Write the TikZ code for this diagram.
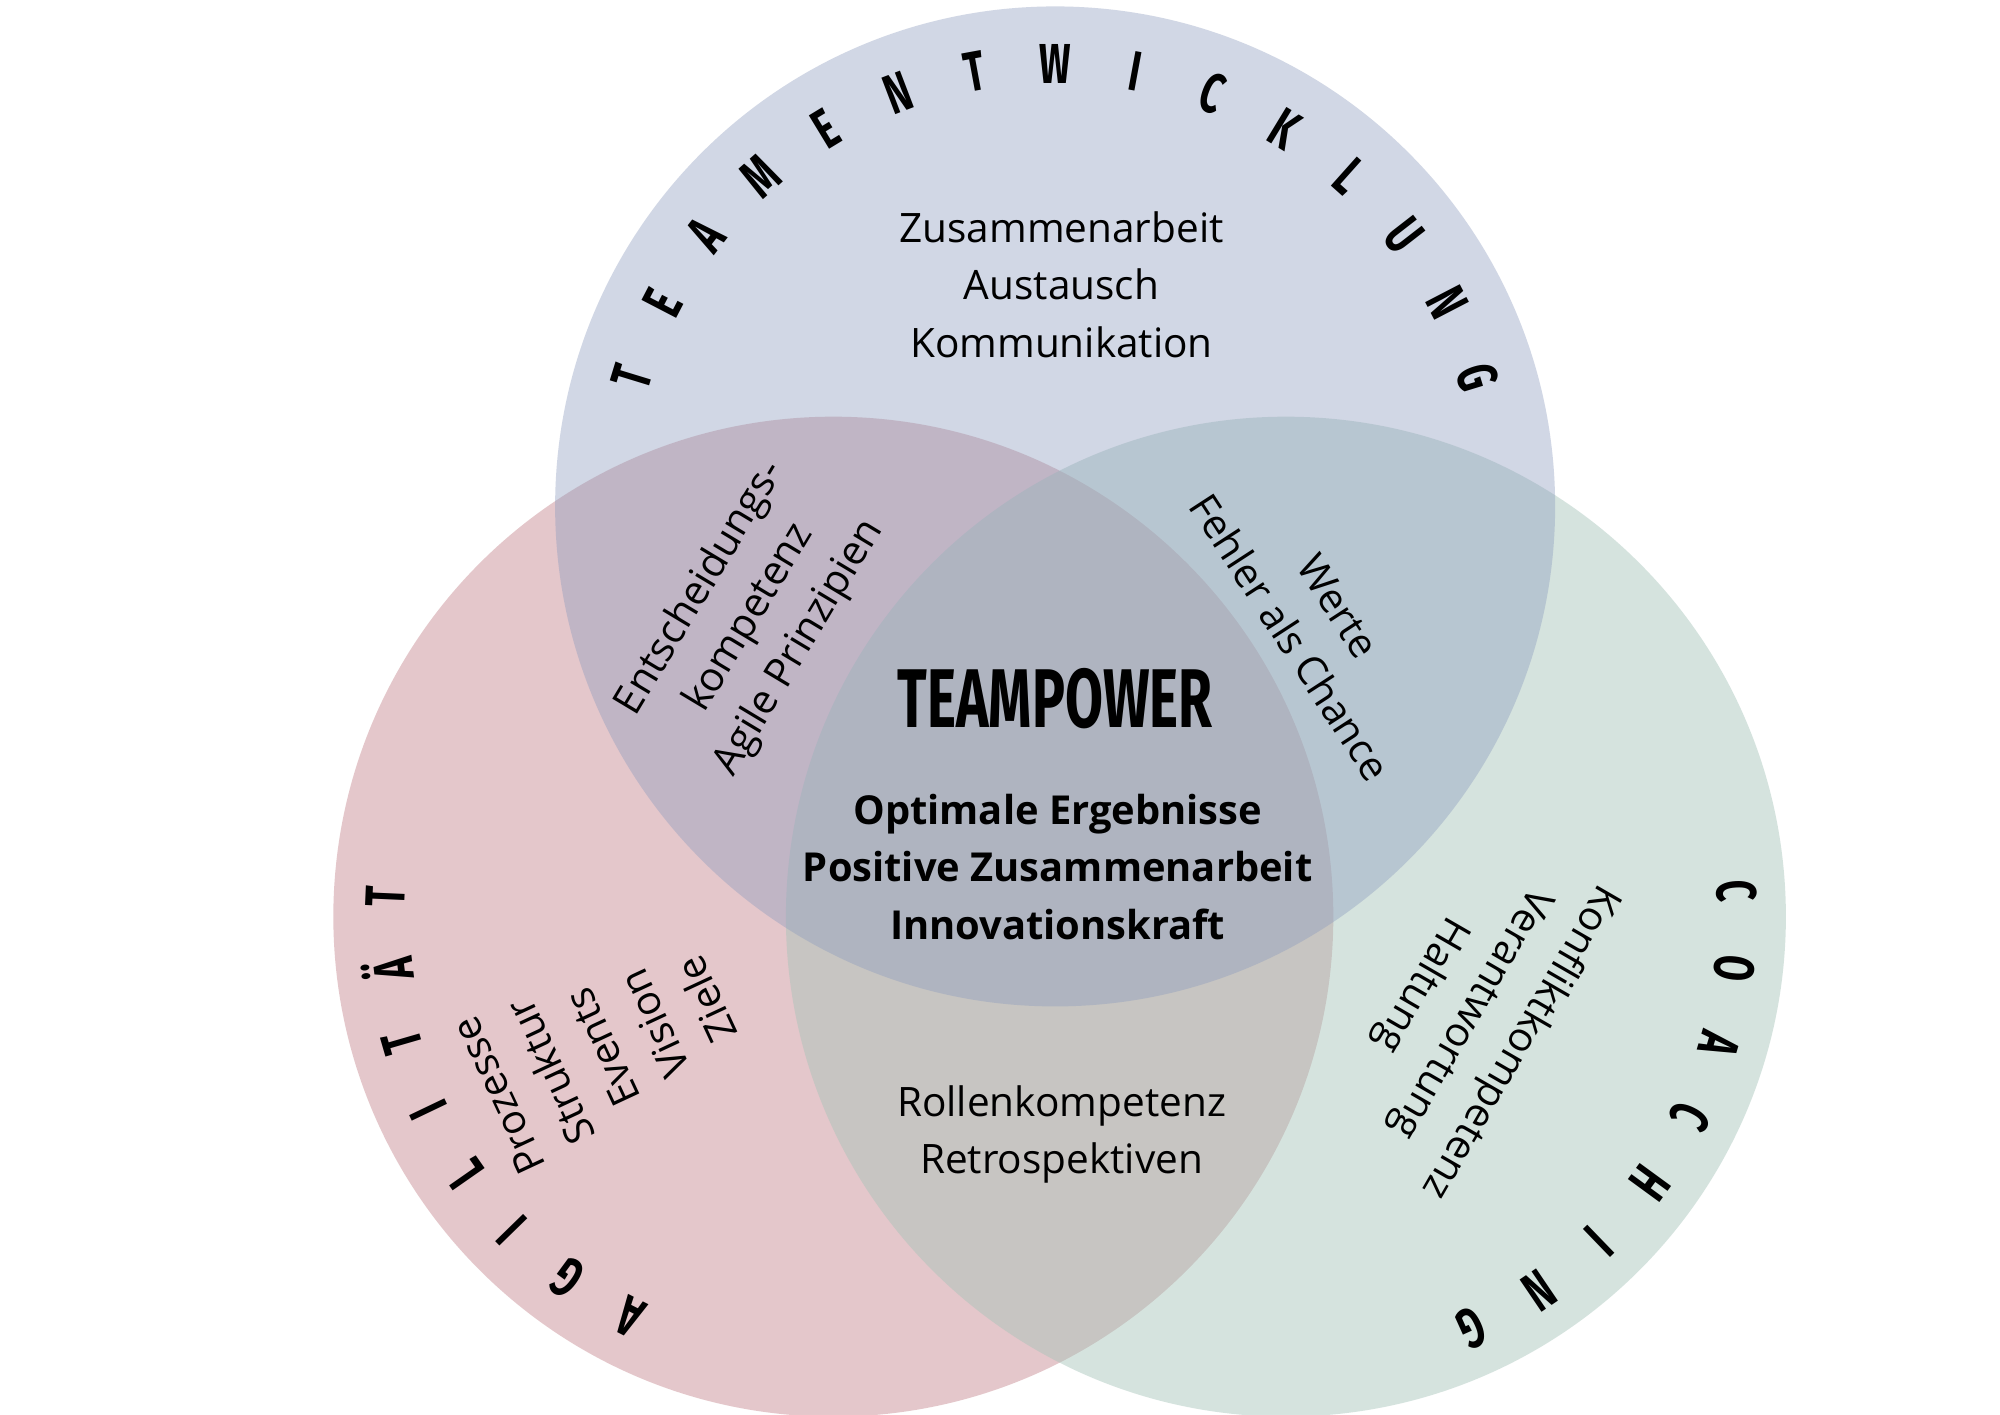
\documentclass[tikz,border=0pt]{standalone}
\usepackage{fontspec}
\usetikzlibrary{calc}
\setmainfont{Open Sans}
\newfontfamily\condfont[FakeStretch=0.66]{Fira Sans}
\definecolor{cblue}{RGB}{140,155,190}
\definecolor{cred}{RGB}{197,133,140}
\definecolor{cgreen}{RGB}{164,195,184}
\begin{document}
\begin{tikzpicture}[x=0.02cm,y=0.02cm,
  circ/.style={fill opacity=0.45,draw=none},
  body/.style={font=\fontsize{18}{25.5}\selectfont,align=center,inner sep=0},
  boldt/.style={font=\fontsize{17.7}{25.5}\selectfont\bfseries,align=center,inner sep=0},
  arcl/.style={font=\fontsize{25}{25}\condfont\bfseries,inner sep=0}]
\useasboundingbox (0,0) rectangle (1560,-1103);
\fill[white] (0,0) rectangle (1560,-1103);
\fill[cred,circ] (650,-715) circle (390);
\fill[cgreen,circ] (1003,-715) circle (390);
\fill[cblue,circ,fill opacity=0.4] (823,-395) circle (390);
% arc letters
\foreach \l [count=\i from 0] in {T,E,A,M,E,N,T,W,I,C,K,L,U,N,G}{
  \pgfmathsetmacro\a{163-\i*10.43}
  \node[arcl,rotate=\a-90] at ($(823,-395)+(\a:345)$) {\l};}
\foreach \l [count=\i from 0] in {A,G,I,L,I,T,Ä,T}{
  \pgfmathsetmacro\a{243-\i*9.36}
  \node[arcl,rotate=\a-90] at ($(650,-715)+(\a:350)$) {\l};}
\foreach \l [count=\i from 0] in {C,O,A,C,H,I,N,G}{
  \pgfmathsetmacro\a{3.3-\i*9.86}
  \node[arcl,rotate=\a-90] at ($(1003,-715)+(\a:352)$) {\l};}
% texts
\node[body] (tw) at (828,-222) {Zusammenarbeit\\Austausch\\Kommunikation};
\node[body,rotate=59] (ta) at (585,-482) {Entscheidungs-\\kompetenz\\Agile Prinzipien};
\node[body,rotate=-57] (tc) at (1025,-485) {Werte\\Fehler als Chance};
\node[inner sep=0,font=\fontsize{37}{37}\condfont\bfseries] (tp) at (823,-545) {TEAMPOWER};
\node[boldt] (res) at (825,-676) {Optimale Ergebnisse\\Positive Zusammenarbeit\\Innovationskraft};
\node[body] (ac) at (828,-885) {Rollenkompetenz\\Retrospektiven};
\node[body,rotate=115] (ag) at (470,-817) {Prozesse\\Struktur\\Events\\Vision\\Ziele};
\node[body,rotate=240] (co) at (1147,-790) {Konfliktkompetenz\\Verantwortung\\Haltung};
\end{tikzpicture}
\end{document}
